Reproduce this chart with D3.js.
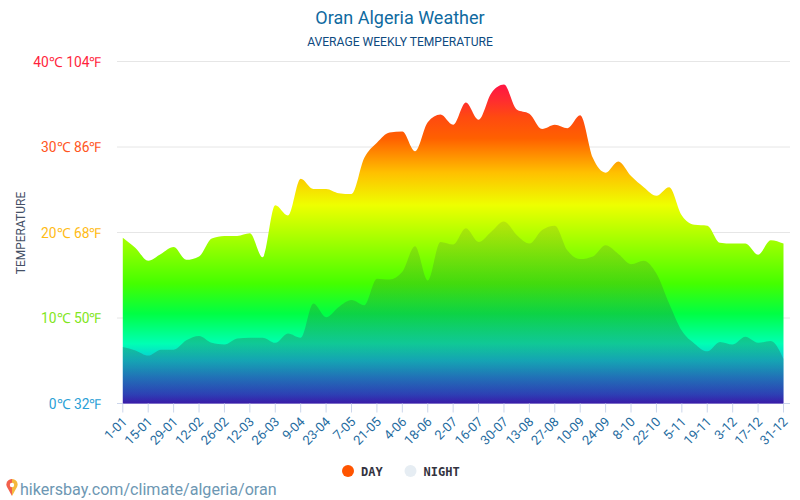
<!DOCTYPE html>
<html>
<head>
<meta charset="utf-8">
<script src="https://cdn.jsdelivr.net/npm/d3@7"></script>
<style>
  html, body { margin: 0; padding: 0; background: #fff; }
  svg { display: block; font-family: Roboto, sans-serif; }
</style>
</head>
<body>
<svg id="chart" width="800" height="500"></svg>
<script>
// week start dates, one label every second week
const weeks = ['1-01','8-01','15-01','22-01','29-01','5-02','12-02','19-02','26-02','5-03','12-03','19-03','26-03','2-04','9-04','16-04','23-04','30-04','7-05','14-05','21-05','28-05','4-06','11-06','18-06','25-06','2-07','9-07','16-07','23-07','30-07','6-08','13-08','20-08','27-08','3-09','10-09','17-09','24-09','1-10','8-10','15-10','22-10','29-10','5-11','12-11','19-11','26-11','3-12','10-12','17-12','24-12','31-12'];
const dayTemps = [19.4,18.2,16.7,17.5,18.3,16.8,17.2,19.3,19.6,19.6,19.9,17.1,23.2,22.0,26.3,25.1,25.1,24.6,24.5,28.7,30.5,31.7,31.8,29.5,32.9,33.8,32.6,35.2,33.2,36.3,37.3,34.4,33.9,32.1,32.6,32.2,33.7,28.7,27.0,28.3,26.6,25.3,24.3,25.3,22.0,20.9,20.8,18.8,18.7,18.7,17.4,19.1,18.7];
const nightTemps = [6.6,6.2,5.6,6.3,6.3,7.4,7.9,7.1,6.9,7.6,7.7,7.7,7.1,8.2,7.7,11.7,10.1,11.3,12.1,11.5,14.6,14.5,15.4,18.4,14.4,18.9,18.6,20.5,18.9,20.1,21.3,19.7,18.7,20.3,20.8,17.9,16.9,17.2,18.5,17.5,16.3,16.7,15.2,11.7,8.5,7.0,6.1,7.2,6.9,7.8,7.1,7.3,5.2];
const yTicks = [0, 10, 20, 30, 40];
const yLabels = ['0℃ 32℉', '10℃ 50℉', '20℃ 68℉', '30℃ 86℉', '40℃ 104℉'];
const yColors = ['#2a9fd6', '#7fe620', '#ffbb14', '#ff5522', '#ff1f3d'];

const gradTemps = [0, 1, 3, 5, 7, 10.5, 14, 20, 23.2, 27, 31, 33.5, 35.5, 37, 40];
const gradColors = ['#3a12c0','#2a40d0','#1a80d8','#08c8d8','#00ffb4','#00ff44','#44ff00','#b4ff00','#eeff00','#ffc000','#ff6000','#ff4a10','#ff2c30','#ff1840','#ff1040'];
// night layer fades out towards the warm end
const nightTemp = [0, 7, 12, 22];
const nightAlpha = [0.2, 0.28, 0.2, 0.12];

const svg = d3.select('#chart');
const x = d3.scalePoint().domain(weeks).range([122.8, 783.5]);
const y = d3.scaleLinear().domain([0, 40]).range([403.5, 61.5]);

const defs = svg.append('defs');
const grad = defs.append('linearGradient')
  .attr('id', 'tempGrad')
  .attr('gradientUnits', 'userSpaceOnUse')
  .attr('x1', 0).attr('x2', 0)
  .attr('y1', y(0)).attr('y2', y(40));
grad.selectAll('stop')
  .data(gradTemps)
  .enter().append('stop')
  .attr('offset', d => d / 40)
  .attr('stop-color', (d, i) => gradColors[i]);

const nightGrad = defs.append('linearGradient')
  .attr('id', 'nightGrad')
  .attr('gradientUnits', 'userSpaceOnUse')
  .attr('x1', 0).attr('x2', 0)
  .attr('y1', y(0)).attr('y2', y(40));
nightGrad.selectAll('stop')
  .data(nightTemp)
  .enter().append('stop')
  .attr('offset', d => d / 40)
  .attr('stop-color', '#3a3a4a')
  .attr('stop-opacity', (d, i) => nightAlpha[i]);

// grid + axis ticks
svg.append('g').selectAll('line')
  .data(yTicks)
  .enter().append('line')
  .attr('x1', 117).attr('x2', 790)
  .attr('y1', d => y(d)).attr('y2', d => y(d))
  .attr('stroke', d => d === 0 ? '#ccd6eb' : '#e6e6e6');

svg.append('g').selectAll('text')
  .data(yTicks)
  .enter().append('text')
  .attr('x', 101.5)
  .attr('y', d => y(d) + 5)
  .attr('text-anchor', 'end')
  .attr('font-size', 13.8)
  .attr('fill', (d, i) => yColors[i])
  .text((d, i) => yLabels[i]);

const area = vals => d3.area()
  .x((d, i) => x(weeks[i]))
  .y0(y(0))
  .y1(d => y(d))
  .curve(d3.curveMonotoneX)(vals);

svg.append('path').attr('d', area(dayTemps)).attr('fill', 'url(#tempGrad)');
svg.append('path').attr('d', area(nightTemps)).attr('fill', 'url(#nightGrad)');

// x axis, only the labelled weeks
const shown = weeks.filter((d, i) => i % 2 === 0);
const xTick = svg.append('g').selectAll('g')
  .data(shown)
  .enter().append('g')
  .attr('transform', d => 'translate(' + x(d) + ',403.5)');
xTick.append('line').attr('y2', 9).attr('stroke', '#ccd6eb');
xTick.append('text')
  .attr('transform', 'translate(5,19) rotate(-45)')
  .attr('text-anchor', 'end')
  .attr('font-size', 13)
  .attr('fill', '#1f6c9f')
  .text(d => d);

// titles
svg.append('text').attr('x', 400).attr('y', 24).attr('text-anchor', 'middle')
  .attr('font-size', 18).attr('fill', '#0f6a9f').text('Oran Algeria Weather');
svg.append('text').attr('x', 400).attr('y', 46).attr('text-anchor', 'middle')
  .attr('font-size', 12.1).attr('fill', '#0d4a80').text('AVERAGE WEEKLY TEMPERATURE');
svg.append('text').attr('transform', 'translate(25,233) rotate(-90)').attr('text-anchor', 'middle')
  .attr('font-size', 12).attr('fill', '#445066').text('TEMPERATURE');

// legend
const legend = svg.append('g').attr('font-family', '"DejaVu Sans Mono", monospace').attr('font-size', 12).attr('font-weight', 'bold').attr('fill', '#333340');
legend.append('circle').attr('cx', 348).attr('cy', 471).attr('r', 6).attr('fill', '#ff5400');
legend.append('text').attr('x', 361).attr('y', 475.5).text('DAY');
legend.append('circle').attr('cx', 410.5).attr('cy', 471).attr('r', 6).attr('fill', '#e6edf3');
legend.append('text').attr('x', 423.5).attr('y', 475.5).text('NIGHT');

// source link with map pin
const pin = svg.append('g').attr('transform', 'translate(12,484)');
pin.append('path').attr('d', 'M0,12 L-5,3 A5.5,5.5 0 0 1 0,-5 Z').attr('fill', '#f2604c');
pin.append('path').attr('d', 'M0,12 L5,3 A5.5,5.5 0 0 0 0,-5 Z').attr('fill', '#f5b93c');
pin.append('circle').attr('cy', 1).attr('r', 2.2).attr('fill', '#fff');
svg.append('text').attr('x', 20).attr('y', 495).attr('font-size', 16.1).attr('fill', '#6d97b3')
  .text('hikersbay.com/climate/algeria/oran');
</script>
</body>
</html>
